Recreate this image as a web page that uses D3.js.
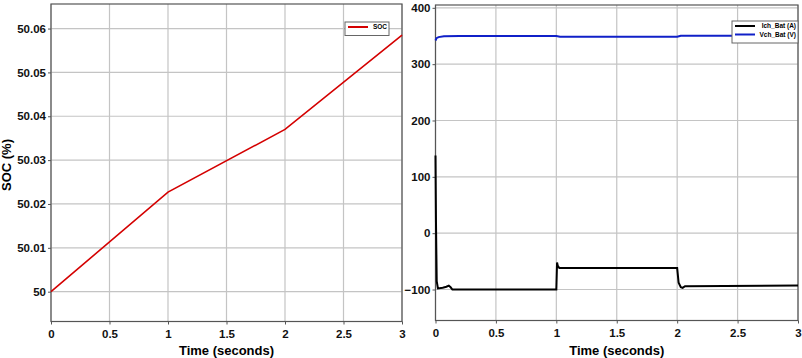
<!DOCTYPE html>
<html>
<head>
<meta charset="utf-8">
<script src="https://cdn.jsdelivr.net/npm/d3@7"></script>
<style>
	body { margin: 0; background: #fff; }
	svg { display: block; font-family: "Liberation Sans", Arial, sans-serif; }
</style>
</head>
<body>
<div id="chart"></div>
<script>
// SOC panel data
var socTime = [0, 1, 2, 3];
var socValues = [50, 50.0227, 50.037, 50.0585];
var socTicks = [50, 50.01, 50.02, 50.03, 50.04, 50.05, 50.06];

// battery current / voltage panel data
var currentTime = [0, 0.004, 0.01, 0.02, 0.06, 0.09, 0.11, 0.125, 0.14, 1.0, 1.006, 1.012, 1.025, 1.06, 2.0, 2.012, 2.03, 2.045, 2.065, 3];
var currentValues = [138, 20, -85, -98, -97, -95, -93, -96, -100, -100, -52, -58, -62, -62, -62, -88, -96, -97, -94, -93];
var voltageTime = [0, 0.008, 0.025, 0.07, 0.2, 1.0, 1.03, 2.0, 2.03, 3];
var voltageValues = [342, 346, 348, 349.5, 350, 350, 348.5, 348.5, 350.3, 350.3];
var rightTicks = [-100, 0, 100, 200, 300, 400];

var timeTicks = [0, 0.5, 1, 1.5, 2, 2.5, 3];

var svg = d3.select("#chart")
	.append("svg")
	.attr("width", 802)
	.attr("height", 358);

// draws one MATLAB-style axes box with grid
function drawPanel(box, yDomain, yTicks, yFmt) {
	var x = d3.scaleLinear().domain([0, 3]).range([box.left, box.right]);
	var y = d3.scaleLinear().domain(yDomain).range([box.bottom, box.top]);
	var g = svg.append("g");

	g.selectAll(".vgrid")
		.data(timeTicks)
		.enter().append("line")
		.attr("x1", function(d) { return x(d); })
		.attr("x2", function(d) { return x(d); })
		.attr("y1", box.top)
		.attr("y2", box.bottom)
		.style("stroke", "#c4c4c4")
		.style("stroke-width", 1.2);

	g.selectAll(".hgrid")
		.data(yTicks)
		.enter().append("line")
		.attr("x1", box.left)
		.attr("x2", box.right)
		.attr("y1", function(d) { return y(d); })
		.attr("y2", function(d) { return y(d); })
		.style("stroke", "#c4c4c4")
		.style("stroke-width", 1.2);

	var xAxis = g.append("g")
		.attr("transform", "translate(0," + box.bottom + ")")
		.call(d3.axisBottom(x).tickValues(timeTicks).tickSize(3).tickPadding(5).tickFormat(d3.format("")));
	var yAxis = g.append("g")
		.attr("transform", "translate(" + box.left + ",0)")
		.call(d3.axisLeft(y).tickValues(yTicks).tickSize(3).tickPadding(2).tickFormat(yFmt));

	[xAxis, yAxis].forEach(function(a) {
		a.select(".domain").remove();
		a.selectAll("line").style("stroke", "#555");
		a.selectAll("text")
			.style("font-size", "11.5px")
			.style("font-weight", "bold")
			.style("fill", "#111");
	});

	g.append("rect")
		.attr("x", box.left)
		.attr("y", box.top)
		.attr("width", box.right - box.left)
		.attr("height", box.bottom - box.top)
		.style("fill", "none")
		.style("stroke", "#555")
		.style("stroke-width", 1.2);

	g.append("text")
		.attr("x", (box.left + box.right) / 2)
		.attr("y", 355)
		.attr("text-anchor", "middle")
		.style("font-size", "13px")
		.style("font-weight", "bold")
		.text("Time (seconds)");

	return { x: x, y: y, g: g };
}

function drawLegend(left, top, width, items) {
	var h = 5 + items.length * 8.5;
	var lg = svg.append("g");
	lg.append("rect")
		.attr("x", left).attr("y", top)
		.attr("width", width).attr("height", h)
		.style("fill", "#fff")
		.style("stroke", "#666")
		.style("stroke-width", 1);
	items.forEach(function(it, i) {
		var cy = top + 5 + i * 8.5;
		lg.append("line")
			.attr("x1", left + 3).attr("x2", left + 23)
			.attr("y1", cy).attr("y2", cy)
			.style("stroke", it.color)
			.style("stroke-width", 2);
		lg.append("text")
			.attr("x", left + width - 2).attr("y", cy + 2.3)
			.attr("text-anchor", "end")
			.style("font-size", "6.5px")
			.style("font-weight", "bold")
			.text(it.label);
	});
}

// left: SOC
var left = drawPanel({ left: 51, right: 402, top: 4, bottom: 321.5 },
	[49.9932, 50.0656], socTicks, function(d) { return d3.format("")(+d.toFixed(2)); });

left.g.append("path")
	.datum(socTime.map(function(t, i) { return [t, socValues[i]]; }))
	.attr("d", d3.line().x(function(d) { return left.x(d[0]); }).y(function(d) { return left.y(d[1]); }))
	.style("fill", "none")
	.style("stroke", "#d40000")
	.style("stroke-width", 1.6);

left.g.append("text")
	.attr("transform", "translate(11,165) rotate(-90)")
	.attr("text-anchor", "middle")
	.style("font-size", "13px")
	.style("font-weight", "bold")
	.text("SOC (%)");

drawLegend(345, 22, 44, [{ label: "SOC", color: "#d40000" }]);

// right: current and voltage
var right = drawPanel({ left: 435.5, right: 798, top: 5, bottom: 320.5 },
	[-155, 405], rightTicks, d3.format(""));

var lineGen = d3.line()
	.x(function(d) { return right.x(d[0]); })
	.y(function(d) { return right.y(d[1]); });

right.g.append("path")
	.datum(voltageTime.map(function(t, i) { return [t, voltageValues[i]]; }))
	.attr("d", lineGen)
	.style("fill", "none")
	.style("stroke", "#1020c8")
	.style("stroke-width", 2);

right.g.append("path")
	.datum(currentTime.map(function(t, i) { return [t, currentValues[i]]; }))
	.attr("d", lineGen)
	.style("fill", "none")
	.style("stroke", "#000")
	.style("stroke-width", 2);

drawLegend(732, 21, 66, [
	{ label: "Ich_Bat (A)", color: "#000" },
	{ label: "Vch_Bat (V)", color: "#1020c8" }
]);
</script>
</body>
</html>
